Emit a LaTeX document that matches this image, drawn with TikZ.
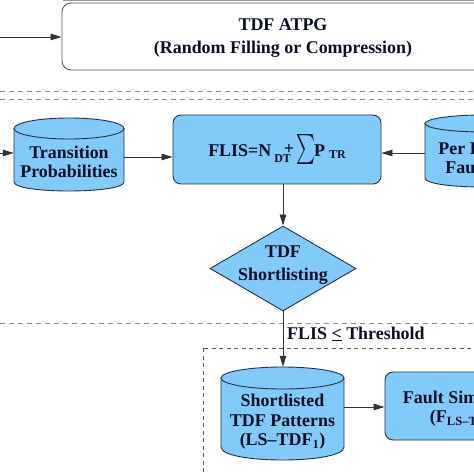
\documentclass[tikz,border=0pt]{standalone}
\usepackage{fontspec}
\usepackage{graphicx}
\setmainfont{Liberation Serif}
\usetikzlibrary{arrows.meta,shapes.geometric,calc}
\definecolor{boxblue}{RGB}{130,202,250}
\definecolor{edgedark}{RGB}{35,50,75}
\definecolor{txtdark}{RGB}{10,15,35}
\newcommand\drawcyl[6]{% left, right, ellipse centre y, ellipse ry, side bottom y, bottom bulge
  \filldraw[cylsty] (#1,#3) -- (#1,#5) .. controls (#1,#5+4/3*#6) and (#2,#5+4/3*#6) .. (#2,#5) -- (#2,#3) -- cycle;
  \filldraw[cylsty] ({(#1+#2)/2},#3) ellipse [x radius={(#2-#1)/2}, y radius=#4];
}
\tikzset{
  lbl/.style={align=center, inner sep=0pt, font=\bfseries\fontsize{18}{19.5}\selectfont, text=txtdark},
  lblwide/.style={lbl, font=\bfseries\fontsize{18}{23}\selectfont},
  rbox/.style={draw=edgedark, fill=boxblue, rounded corners=8bp, line width=0.9bp},
  atpgbox/.style={draw=black!65, fill=white, rounded corners=9bp, line width=0.9bp},
  cylsty/.style={draw=edgedark, fill=boxblue, line width=0.9bp},
  bodybox/.style={inner sep=0pt, draw=none},
  arr/.style={-{Triangle[length=11bp,width=6.5bp]}, draw=black!80, line width=0.8bp},
  sepline/.style={draw=black!45, dash pattern=on 5bp off 4bp, line width=0.8bp},
  innerdash/.style={draw=black!65, dash pattern=on 4bp off 3.5bp, line width=0.9bp}
}
\begin{document}
\begin{tikzpicture}[x=1bp,y=-1bp]
\useasboundingbox (0,0) rectangle (474,474);
% top strip
\draw[black!40, line width=2bp] (63,0.5) -- (474,0.5);
% ATPG box
\node[atpgbox, minimum width=442bp, minimum height=67bp] (atpg) at (283,36.5) {};
\node[lblwide] (atpgt) at (283,38) {TDF ATPG\\(Random Filling or Compression)};
\coordinate (inA) at (0,37);
\draw[arr] (inA) -- (atpg.west |- inA);
% separators
\draw[sepline] (0,91) -- (474,91);
\draw[sepline] (0,99) -- (474,99);
\draw[sepline] (0,323) -- (474,323);
% left cylinder
\drawcyl{14}{124}{128.5}{10.5}{182}{9}
\node[bodybox, minimum width=110bp, minimum height=64bp] (tp) at (69,150) {};
\node[lbl] (tpt) at (69,162) {Transition\\Probabilities};
% right cylinder
\drawcyl{425}{541}{123.5}{8.5}{178}{9}
\node[bodybox, minimum width=116bp, minimum height=63bp] (rc) at (483,146.5) {};
\node[lbl] (rct) at (483,158.5) {Per Pattern\\Fault List};
% FLIS box
\node[rbox, minimum width=208bp, minimum height=69bp] (flis) at (277,149.5) {};
\node[lbl] (flist) at (277,150) {FLIS=N\kern3bp\raisebox{-6bp}{\fontsize{12}{12}\selectfont DT}\kern-7bp\raisebox{2bp}{+}\kern2bp\raisebox{-8bp}{\resizebox{19bp}{30bp}{\raisebox{\depth}{$\sum$}}}\kern-1bp P\kern4bp\raisebox{-2bp}{\fontsize{12}{12}\selectfont TR}};
\coordinate (rowA) at (0,157);
\coordinate (rowB) at (0,153);
\draw[arr] (rowB) -- (tp.west |- rowB);
\draw[arr] (tp.east |- rowA) -- (flis.west |- rowA);
\draw[arr] (rc.west |- rowB) -- (flis.east |- rowB);
% diamond
\node[diamond, draw=edgedark, fill=boxblue, line width=0.9bp, minimum width=146bp, minimum height=85bp, inner sep=0pt] (dia) at (283,268.5) {};
\node[lblwide] (diat) at (283,265) {TDF\\Shortlisting};
\draw[arr] (flis.south -| dia.north) -- (dia.north);
% inner dashed region
\draw[innerdash] (203,348) rectangle (560,560);
% shortlisted cylinder
\drawcyl{221}{344}{378}{11}{447}{13}
\node[bodybox, minimum width=123bp, minimum height=80bp] (sl) at (282.5,407) {};
\node[lbl] (slt) at (282.5,422) {Shortlisted\\TDF Patterns\\(LS–TDF\textsubscript{1})};
\draw[arr] (dia.south) -- (dia.south |- sl.north);
\node[lbl, anchor=west] (cond) at (287,334) {FLIS \underline{<} Threshold};
% fault simulation box
\node[rbox, minimum width=165bp, minimum height=68bp] (fsim) at (467.5,406) {};
\node[lbl] (fsimt) at (467.5,409) {Fault Simulation\\(F\textsubscript{LS–TDF\textsubscript{1}})};
\draw[arr] (sl.east) -- (sl.east -| fsim.west);
\end{tikzpicture}
\end{document}
